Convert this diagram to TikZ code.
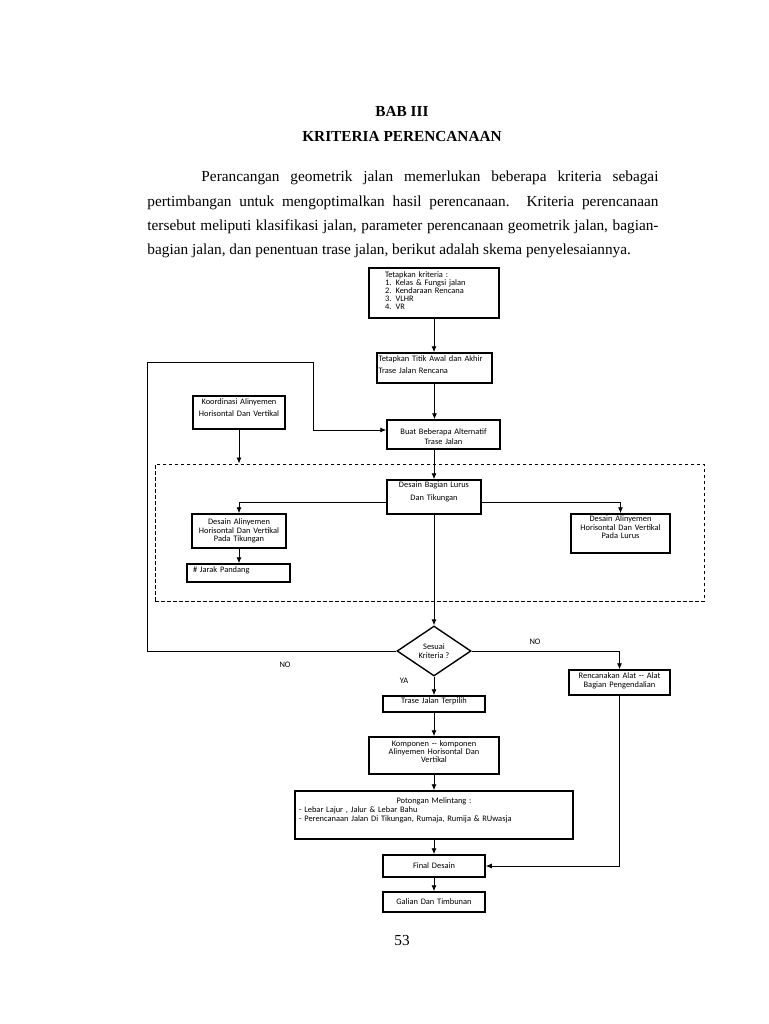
\documentclass[tikz,border=0pt]{standalone}
\usepackage{fontspec}
\setmainfont{Liberation Serif}
\newfontfamily\calibri{Carlito}
\newcommand\flow[1]{\calibri\fontsize{8.4}{#1}\selectfont}
\newcommand\body{\fontsize{15.3}{24}\selectfont}
\usetikzlibrary{shapes.geometric,arrows.meta}

\begin{document}
\begin{tikzpicture}[x=1pt,y=-1pt,
    >={Latex[length=6pt,width=5pt]},
    box/.style = {draw, line width=1.5pt, anchor=base, inner sep=0pt, align=center, font=\flow{8.5}},
    lbox/.style = {box, align=left},
    dec/.style = {draw, diamond, aspect=1.5, line width=1.4pt, inner sep=0pt, minimum width=74pt, minimum height=50pt, align=center, font=\flow{9}},
    group/.style = {draw, line width=1pt, dash pattern=on 3.5pt off 2.5pt, inner sep=0pt},
    lbl/.style = {inner sep=0pt, font=\flow{8.5}},
    txt/.style = {inner sep=0pt, anchor=base, font=\body},
    every path/.style = {line width=0.9pt}]
    \fill[white] (0,0) rectangle (768,1024);

    % heading
    \node[txt, font=\body\bfseries] (h1) at (402,117) {BAB III};
    \node[txt, font=\body\bfseries] (h2) at (402,141.7) {KRITERIA PERENCANAAN};
    \node[txt, anchor=base west] (p1) at (201,182) {\makebox[457pt][s]{Perancangan geometrik jalan memerlukan beberapa kriteria sebagai}};
    \node[txt, anchor=base west] (p2) at (147,206.3) {\makebox[511pt][s]{pertimbangan untuk mengoptimalkan hasil perencanaan. Kriteria perencanaan}};
    \node[txt, anchor=base west] (p3) at (147,230.6) {\makebox[511pt][s]{tersebut meliputi klasifikasi jalan, parameter perencanaan geometrik jalan, bagian-}};
    \node[txt, anchor=base west] (p4) at (147,254.9) {bagian jalan, dan penentuan trase jalan, berikut adalah skema penyelesaiannya.};

    % start
    \node[lbox, font=\flow{8}, inner xsep=16pt, text width=98pt, text height=9.5pt, text depth=40.5pt] (1) at (434,277.5)
        {Tetapkan kriteria :\\1.\enspace Kelas \& Fungsi jalan\\2.\enspace Kendaraan Rencana\\3.\enspace VLHR\\4.\enspace VR};
    \node[lbox, font=\flow{12}, inner xsep=1.5pt, text width=112pt, text height=8.5pt, text depth=21.5pt] (2) at (434.5,361.5)
        {Tetapkan Titik Awal dan Akhir\\Trase Jalan Rencana};
    \node[box, font=\flow{10}, text width=113pt, text height=14.5pt, text depth=14.5pt] (3) at (443.5,434.5)
        {Buat Beberapa Alternatif\\Trase Jalan};
    \node[box, font=\flow{12}, text width=92pt, text height=8.5pt, text depth=24.5pt] (4) at (239,404.5)
        {Koordinasi Alinyemen\\Horisontal Dan Vertikal};
    \draw[->] (1.south) -- (1.south |- 2.north);
    \draw[->] (2.south) -- (2.south |- 3.north);

    % design
    \node[group, minimum width=549pt, minimum height=137pt] (5) at (429.5,532.5) {};
    \node[box, font=\flow{13}, text width=94pt, text height=7.5pt, text depth=26.5pt] (6) at (434,487.5)
        {Desain Bagian Lurus\\Dan Tikungan};
    \node[box, text width=94pt, text height=10.5pt, text depth=23.5pt] (7) at (239,524.5)
        {Desain Alinyemen\\Horisontal Dan Vertikal\\Pada Tikungan};
    \node[box, text width=99pt, text height=7.5pt, text depth=31.5pt] (8) at (620.5,521.5)
        {Desain Alinyemen\\Horisontal Dan Vertikal\\Pada Lurus};
    \node[lbox, inner xsep=6pt, text width=91pt, text height=8.5pt, text depth=9.5pt] (9) at (238.5,572.5)
        {\# Jarak Pandang};
    \draw[->] (4.south) -- (4.south |- 5.north);
    \draw[->] (3.south -| 6.north) -- (6.north);
    \draw[->] ([yshift=-5pt]6.west) -| (7.north);
    \draw[->] ([yshift=-5pt]6.east) -| (8.north);
    \draw[->] (7.south) -- (7.south |- 9.north);

    % check
    \node[dec] (10) at (434,651) {Sesuai\\Kriteria ?};
    \node[box, text width=101pt, text height=8.5pt, text depth=16.5pt] (11) at (619.5,678.5)
        {Rencanakan Alat -- Alat\\Bagian Pengendalian};
    \node[lbl] (no1) at (285,665) {NO};
    \node[lbl] (no2) at (535,642) {NO};
    \node[lbl] (ya) at (404,681) {YA};
    \coordinate (lp) at (147,362);
    \coordinate (lq) at (313,430);
    \draw[->] (6.south) -- (10.north);
    \draw[->] (10.west) -| (lp) -| (lq) -- (lq -| 3.west);
    \draw[->] (10.east) -| (11.north);

    % end
    \node[box, text width=102pt, text height=7.5pt, text depth=8.5pt] (12) at (434,703.5)
        {Trase Jalan Terpilih};
    \node[box, font=\flow{7.8}, text width=130pt, text height=9.5pt, text depth=27.5pt] (13) at (434,746.5)
        {Komponen -- komponen\\Alinyemen Horisontal Dan\\Vertikal};
    \node[lbox, font=\flow{9}, inner xsep=4pt, text width=270pt, text height=12.5pt, text depth=35.5pt] (14) at (434,803.5)
        {\makebox[\linewidth]{Potongan Melintang :}\\- Lebar Lajur , Jalur \& Lebar Bahu\\- Perencanaan Jalan Di Tikungan, Rumaja, Rumija \& RUwasja};
    \node[box, text width=102pt, text height=13.5pt, text depth=8.5pt] (15) at (434,868.5)
        {Final Desain};
    \node[box, text width=102pt, text height=12.5pt, text depth=7.5pt] (16) at (434,904.5)
        {Galian Dan Timbunan};
    \draw[->] (10.south) -- (12.north);
    \draw[->] (12.south) -- (13.north);
    \draw[->] (13.south) -- (14.north);
    \draw[->] (14.south) -- (15.north);
    \draw[->] (15.south) -- (16.north);
    \draw[->] (11.south) |- (15.east);

    \node[txt] (pg) at (402,945) {53};
\end{tikzpicture}
\end{document}
